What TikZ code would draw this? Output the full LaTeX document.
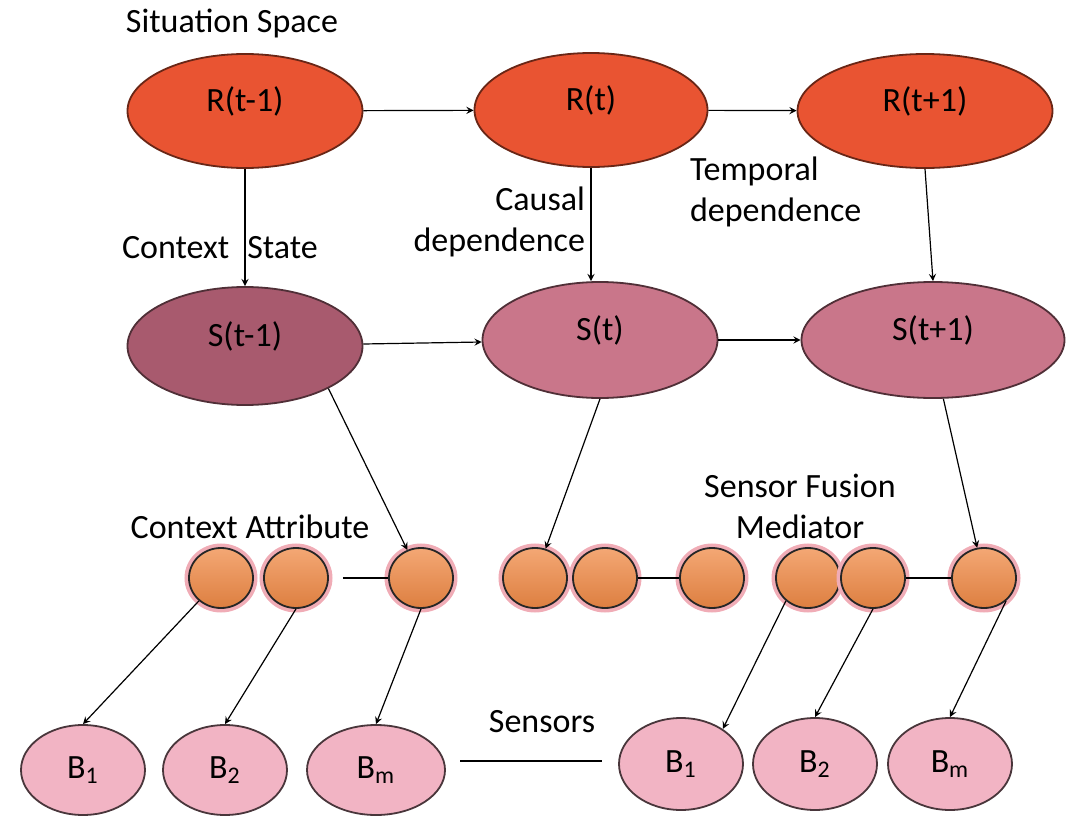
\documentclass[tikz,border=0pt]{standalone}
\usepackage{fontspec}
\setmainfont{Carlito}
\usetikzlibrary{arrows,
	arrows.meta,
	calc,
	shapes}

\definecolor{sitred}{RGB}{233,84,50}
\definecolor{statedark}{RGB}{168,90,110}
\definecolor{statepink}{RGB}{201,118,138}
\definecolor{attrorange}{RGB}{240,138,70}
\definecolor{glowpink}{RGB}{240,172,182}
\definecolor{sensorpink}{RGB}{242,180,196}

\begin{document}
\begin{tikzpicture}[x=0.5pt,y=-0.5pt,font=\fontsize{17}{20.5}\selectfont]
    \tikzstyle{situation}=[ellipse,fill=sitred,draw=sitred!45!black,line width=0.9pt,minimum height=57pt,text height=12pt,text depth=12pt]
    \tikzstyle{state}=[ellipse,fill=statepink,draw=statepink!40!black,line width=0.9pt,minimum height=58pt,text height=12pt,text depth=12pt]
    \tikzstyle{attribute}=[ellipse,top color=attrorange!75!white,bottom color=attrorange!92!black,draw=black!85,line width=0.9pt,minimum width=32pt,minimum height=30pt,inner sep=0pt,preaction={draw=glowpink,line width=4.5pt}]
    \tikzstyle{sensor}=[ellipse,fill=sensorpink,draw=sensorpink!30!black,line width=0.9pt,minimum width=62pt,minimum height=45pt,inner sep=0pt]
    \tikzstyle{link}=[-stealth,line width=0.6pt]
    \useasboundingbox (0,0) rectangle (1072,830);
    \node[situation,minimum width=117.5pt] (r_1) at (245,111) {R(t-1)};
    \node[situation,minimum width=116.5pt] (r_2) at (591,110) {R(t)};
    \node[situation,minimum width=127.5pt] (r_3) at (925,111) {R(t+1)};
    \node[state,fill=statedark,minimum width=117.5pt,minimum height=59pt] (s_1) at (245,346) {S(t-1)};
    \node[state,minimum width=117.5pt] (s_2) at (600,340) {S(t)};
    \node[state,minimum width=131.5pt] (s_3) at (933,340) {S(t+1)};
    \node[attribute] (a_1) at (221,578) {};
    \node[attribute] (a_2) at (296,578) {};
    \node[attribute] (a_3) at (421,578) {};
    \node[attribute] (a_4) at (535,578) {};
    \node[attribute] (a_5) at (605,578) {};
    \node[attribute] (a_6) at (712,578) {};
    \node[attribute] (a_7) at (808,578) {};
    \node[attribute] (a_8) at (873,578) {};
    \node[attribute] (a_9) at (984,578) {};
    \node[sensor] (b_1) at (83,770) {B\textsubscript{1}};
    \node[sensor] (b_2) at (225,770) {B\textsubscript{2}};
    \node[sensor,minimum width=69pt] (b_3) at (376,770) {B\textsubscript{m}};
    \node[sensor,minimum height=46pt] (b_4) at (681,764) {B\textsubscript{1}};
    \node[sensor,minimum height=46pt] (b_5) at (815,764) {B\textsubscript{2}};
    \node[sensor,minimum height=46pt] (b_6) at (950,764) {B\textsubscript{m}};
    \node (sit_space) at (232,23) {Situation Space};
    \node[anchor=west] (ctx_state) at (115,248) {Context\hspace{9pt}State};
    \node[align=right,anchor=east] (causal) at (592,222) {Causal\\dependence};
    \node[align=left,anchor=west] (temporal) at (683,192) {Temporal\\dependence};
    \node (ctx_attr) at (250,527) {Context Attribute};
    \node[align=center] (fusion) at (800,506) {Sensor Fusion\\Mediator};
    \node (sensors) at (542,722) {Sensors};
    \coordinate (gap_l) at (460,761);
    \coordinate (gap_r) at (602,761);
    \draw[link] (r_1) -- (r_2);
    \draw[link] (r_2) -- (r_3);
    \draw[link] (r_1) -- (s_1);
    \draw[link] (r_2.south) -- (r_2.south |- s_2.north);
    \draw[link] (r_3.south) -- (s_3.north);
    \draw[link] (s_1) -- (s_2);
    \draw[link] (s_2) -- (s_3);
    \draw[link] (s_1.-27) -- (a_3);
    \draw[link] (s_2.south) -- (a_4);
    \draw[link] (s_3.-80) -- (a_9);
    \draw[line width=0.7pt,shorten <=7pt] (a_2) -- (a_3);
    \draw[line width=0.7pt] (a_5) -- (a_6);
    \draw[line width=0.7pt] (a_8) -- (a_9);
    \draw[link] (a_1.-134) -- (b_1.north);
    \draw[link] (a_2.south) -- (b_2.north);
    \draw[link] (a_3.south) -- (b_3.north);
    \draw[link] (a_7.-134) -- (b_4.40);
    \draw[link] (a_8.south) -- (b_5.north);
    \draw[link] (a_9.-46) -- (b_6.north);
    \draw[line width=0.7pt] (gap_l) -- (gap_r);
\end{tikzpicture}
\end{document}
